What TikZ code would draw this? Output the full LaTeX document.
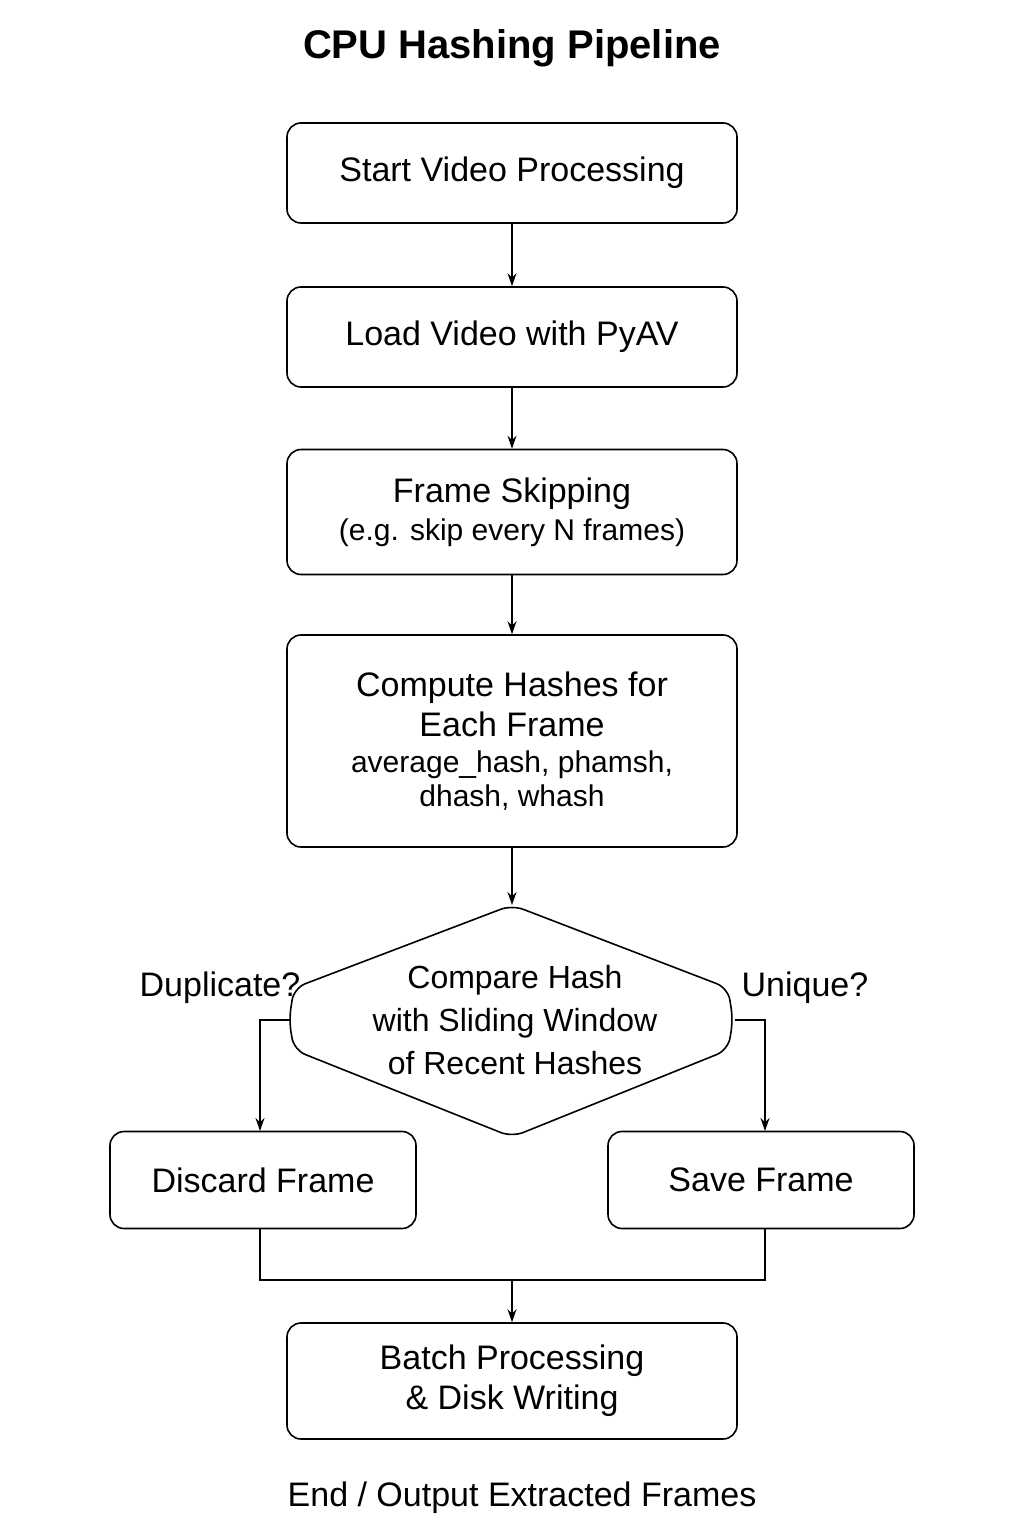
\documentclass[tikz,border=0pt]{standalone}
\usepackage{fontspec}
\setmainfont{Liberation Sans}
\usetikzlibrary{arrows.meta}
\begin{document}
\begin{tikzpicture}[x=1pt,y=-1pt,
  box/.style={draw,line width=1.6pt,rounded corners=14pt,minimum width=450pt,align=center,font=\fontsize{34}{40}\selectfont,inner sep=0pt},
  arr/.style={line width=1.6pt,-{Stealth[length=13pt,width=9pt]}},
  ln/.style={line width=1.6pt},
  lab/.style={font=\fontsize{34}{40}\selectfont}]
\useasboundingbox (0,0) rectangle (1024,1536);
\node[font=\bfseries\fontsize{40}{46}\selectfont] (title) at (512,48) {CPU Hashing Pipeline};
\node[box,minimum height=100pt] (start) at (512,173) {Start Video Processing};
\node[box,minimum height=100pt] (load) at (512,337) {Load Video with PyAV};
\node[box,minimum height=125pt] (skip) at (512,512) {Frame Skipping\\[-2pt]{\fontsize{30}{36}\selectfont (e.g. skip every N frames)}};
\node[box,minimum height=212pt] (comp) at (512,741) {Compute Hashes for\\Each Frame\\[-4pt]{\fontsize{30}{40}\selectfont average\_hash, phamsh,}\\[-6pt]{\fontsize{30}{40}\selectfont dhash, whash}};
\draw[line width=1.6pt,rounded corners=12pt] (512,905) -- (728,988) -- (733,1020) -- (728,1050) -- (512,1137) -- (294,1050) -- (289,1020) -- (294,988) -- cycle;
\coordinate (dtop) at (512,905);
\coordinate (dl) at (290,1020);
\coordinate (dr) at (735,1020);
\node[align=center,font=\fontsize{32}{43}\selectfont] (cmp) at (515,1020) {Compare Hash\\with Sliding Window\\of Recent Hashes};
\node[lab] (dup) at (220,988) {Duplicate?};
\node[lab] (uni) at (805,988) {Unique?};
\node[box,minimum width=306pt,minimum height=97pt] (disc) at (263,1180) {Discard Frame};
\node[box,minimum width=306pt,minimum height=97pt] (save) at (761,1180) {Save Frame};
\node[box,minimum height=116pt] (batch) at (512,1381) {Batch Processing\\\& Disk Writing};
\node[lab] (end) at (522,1498) {End / Output Extracted Frames};
\draw[arr] (start) -- (load);
\draw[arr] (load) -- (skip);
\draw[arr] (skip) -- (comp);
\draw[arr] (comp) -- (dtop);
\draw[arr] (dl) -- (260,1020) -- (260,1131);
\draw[arr] (dr) -- (765,1020) -- (765,1131);
\coordinate (m) at (512,1280);
\draw[ln] (260,1228) -- (260,1280) -- (765,1280) -- (765,1228);
\draw[arr] (m) -- (batch);
\end{tikzpicture}
\end{document}
